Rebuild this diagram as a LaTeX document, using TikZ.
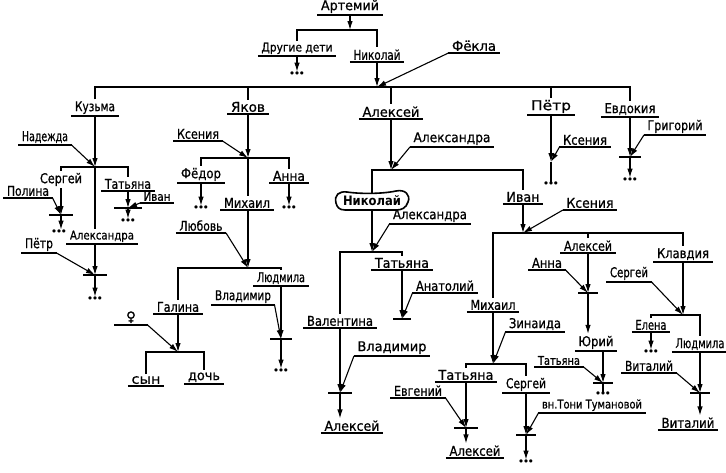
\documentclass[tikz,border=0pt]{standalone}
\usepackage{fontspec}
\usepackage{graphicx}
\usetikzlibrary{arrows.meta,calc}
\newfontfamily\hand[FakeBold=0.8]{DejaVu Sans}
\newfontfamily\handplain{DejaVu Sans}
\newcommand\hw[2]{\resizebox{#1pt}{\height}{#2}}
\newcommand\mydots{•\kern-1.6pt•\kern-1.6pt•}
\begin{document}
\begin{tikzpicture}[x=1pt,y=-1pt, line width=1.1pt,
 nm/.style={anchor=south, inner xsep=3pt, inner ysep=1.5pt, font=\hand\fontsize{13.5}{14}\selectfont,
   append after command={(\tikzlastnode.south west) edge[draw,-] (\tikzlastnode.south east)}},
 sm/.style={font=\hand\fontsize{12}{13}\selectfont},
 pl/.style={anchor=south, inner xsep=3pt, inner ysep=1.5pt, font=\hand\fontsize{13.5}{14}\selectfont},
 dts/.style={inner sep=0pt, font=\handplain\fontsize{11}{11}\selectfont},
 arr/.style={-{Latex[length=9pt,width=5.5pt]}}
]
\useasboundingbox (0,0) rectangle (726,472);
% ---- top
\node[nm] (art) at (350,15) {\hw{58}{Артемий}};
\coordinate (j0) at (350,30);
\node[nm, sm] (dd) at (297,56) {\hw{71}{Другие дети}};
\node[nm] (nik1) at (377,62) {\hw{47}{Николай}};
\node[nm] (fek) at (474,53) {\hw{44}{Фёкла}};
\coordinate (j1) at (377,87);
\node[dts] (d0) at (297,75) {\mydots};
\draw[arr] (art.south) -- (j0);
\draw (dd.north) |- (j0) -| (nik1.north);
\draw[arr] (dd.south) -- (d0.north);
\draw[arr] (nik1.south) -- (j1);
\draw[arr] (fek.south west) -- (j1);
% ---- generation 1
\node[nm] (kuz) at (95,116) {\hw{40}{Кузьма}};
\node[nm] (yak) at (248,114) {\hw{34}{Яков}};
\node[nm] (alx) at (391,119) {\hw{57}{Алексей}};
\node[nm] (pet) at (551,115) {\hw{40}{Пётр}};
\node[nm] (evd) at (630,117) {\hw{51}{Евдокия}};
\draw (kuz.north) |- (j1) -| (evd.north);
\draw (j1 -| yak.north) -- (yak.north);
\draw (j1 -| alx.north) -- (alx.north);
\draw (j1 -| pet.north) -- (pet.north);
% ---- Kuzma
\coordinate (j2) at (95,167);
\node[nm] (nad) at (45,145) {\hw{46}{Надежда}};
\draw[arr] (kuz.south) -- (j2);
\draw[arr] (nad.south east) -- (j2);
\node[pl] (ser1) at (61,188) {\hw{42}{Сергей}};
\node[nm] (tat1) at (128,191) {\hw{46}{Татьяна}};
\draw (ser1.north) |- (j2) -| (tat1.north);
\coordinate (x1) at (61,215);
\node[nm] (pol) at (28,198) {\hw{42}{Полина}};
\draw[arr] (ser1.south) -- (x1);
\draw[arr] (pol.south east) -- (x1);
\draw ([xshift=-12pt]x1) -- ([xshift=12pt]x1);
\node[dts] (d1) at (59,233) {\mydots};
\draw[arr] (x1) -- (d1.north -| x1);
\coordinate (x2) at (128,208);
\node[nm, sm] (ivn1) at (157,203) {\hw{27}{Иван}};
\draw[arr] (tat1.south) -- (x2);
\draw[arr] (ivn1.south west) -- (x2);
\draw ([xshift=-14pt]x2) -- ([xshift=14pt]x2);
\node[dts] (d2) at (128,222) {\mydots};
\draw[arr] (x2) -- (d2.north);
\node[nm, sm] (ale1) at (102,244) {\hw{64}{Александра}};
\draw (j2) -- (j2 |- ale1.north);
\coordinate (x3) at (95,275);
\draw[arr] (x3 |- ale1.south) -- (x3);
\node[nm] (pet1) at (39,253) {\hw{28}{Пётр}};
\draw[arr] (pet1.south east) -- (x3);
\draw ([xshift=-12pt]x3) -- ([xshift=12pt]x3);
\node[dts] (d3) at (95,300) {\mydots};
\draw[arr] (x3) -- (d3.north);
% ---- Yakov
\coordinate (j3) at (248,158);
\node[nm] (ks1) at (198,141) {\hw{42}{Ксения}};
\draw[arr] (yak.south) -- (j3);
\draw[arr] (ks1.south east) -- (j3);
\node[nm] (fed) at (201,183) {\hw{40}{Фёдор}};
\node[nm] (ann1) at (289,183) {\hw{32}{Анна}};
\draw (fed.north) |- (j3) -| (ann1.north);
\node[dts] (d4) at (201,209) {\mydots};
\node[dts] (d5) at (289,209) {\mydots};
\draw[arr] (fed.south) -- (d4.north);
\draw[arr] (ann1.south) -- (d5.north);
\node[nm] (mih1) at (247,210) {\hw{46}{Михаил}};
\draw (j3) -- (j3 |- mih1.north);
\coordinate (j4) at (248,268);
\draw[arr] (j4 |- mih1.south) -- (j4);
\node[nm] (lub) at (201,233) {\hw{43}{Любовь}};
\draw[arr] (lub.south east) -- (j4);
\node[nm] (gal) at (178,314) {\hw{42}{Галина}};
\node[nm] (lud1) at (281,286) {\hw{48}{Людмила}};
\draw (gal.north) |- (j4) -| (lud1.north);
\coordinate (j5) at (178,352);
\draw[arr] (gal.south) -- (j5);
\node[nm, minimum width=32pt] (fem) at (131,325) {♀};
\draw[arr] (fem.south east) -- (j5);
\node[nm] (syn) at (146,386) {\hw{29}{сын}};
\node[nm] (doc) at (204,384) {\hw{32}{дочь}};
\draw (syn.north) |- (j5) -| (doc.north);
\coordinate (x4) at (281,339);
\draw[arr] (lud1.south) -- (x4);
\node[nm] (vla1) at (243,305) {\hw{56}{Владимир}};
\draw[arr] (vla1.south east) -- (x4);
\draw ([xshift=-11pt]x4) -- ([xshift=11pt]x4);
\node[dts] (d6) at (281,372) {\mydots};
\draw[arr] (x4) -- (d6.north);
% ---- Alexei
\coordinate (j6) at (391,170);
\draw[arr] (alx.south) -- (j6);
\node[nm] (ale2) at (452,147) {\hw{77}{Александра}};
\draw[arr] (ale2.south west) -- (j6);
\node[inner sep=1pt, font=\handplain\bfseries\fontsize{13}{14}\selectfont] (nik2) at (372,201) {\hw{58}{Николай}};
\begin{scope}[shift={(nik2.center)}]
\draw[line width=1.6pt] (-36,2) .. controls (-38,-6) and (-33,-10) .. (-25,-9)
  .. controls (-12,-7) and (10,-7) .. (24,-10)
  .. controls (33,-12) and (39,-6) .. (36,1)
  .. controls (34,7) and (30,9) .. (24,9)
  -- (-27,9) .. controls (-33,9) and (-35,6) .. cycle;
\end{scope}
\node[nm] (ivn2) at (523,204) {\hw{33}{Иван}};
\draw ([yshift=7pt]nik2.center) |- (j6) -| (ivn2.north);
\coordinate (j7) at (372,252);
\draw[arr] ([yshift=-9pt]nik2.center) -- (j7);
\node[nm] (ale3) at (430,224) {\hw{74}{Александра}};
\draw[arr] (ale3.south west) -- (j7);
\node[nm] (val) at (340,328) {\hw{66}{Валентина}};
\node[nm] (tat2) at (402,270) {\hw{54}{Татьяна}};
\draw (val.north) |- (j7) -| (tat2.north);
\coordinate (x5) at (402,319);
\draw[arr] (tat2.south) -- (x5);
\node[nm] (ana) at (445,293) {\hw{58}{Анатолий}};
\draw[arr] (ana.south west) -- (x5);
\draw ([xshift=-9pt]x5) -- ([xshift=9pt]x5);
\coordinate (x6) at (340,393);
\draw[arr] (val.south) -- (x6);
\node[nm] (vla2) at (392,356) {\hw{69}{Владимир}};
\draw[arr] (vla2.south west) -- (x6);
\draw ([xshift=-12pt]x6) -- ([xshift=12pt]x6);
\node[nm] (alx3) at (352,433) {\hw{55}{Алексей}};
\draw[arr] (x6) -- (x6 |- alx3.north);
% ---- Ivan
\coordinate (j8) at (523,233);
\draw[arr] (ivn2.south) -- (j8);
\node[nm] (ks3) at (590,210) {\hw{47}{Ксения}};
\draw[arr] (ks3.south west) -- (j8);
\node[nm] (mih2) at (493,312) {\hw{45}{Михаил}};
\node[nm] (kla) at (683,262) {\hw{52}{Клавдия}};
\draw (mih2.north) |- (j8) -| (kla.north);
\node[nm] (alx5) at (588,253) {\hw{48}{Алексей}};
\draw (j8 -| alx5.north) -- (alx5.north);
% Mikhail
\coordinate (j9) at (493,364);
\draw[arr] (mih2.south) -- (j9);
\node[nm] (zin) at (535,332) {\hw{52}{Зинаида}};
\draw[arr] (zin.south west) -- (j9);
\node[nm] (tat3) at (466,382) {\hw{55}{Татьяна}};
\node[nm] (ser2) at (526,393) {\hw{40}{Сергей}};
\draw (tat3.north) |- (j9) -| (ser2.north);
\coordinate (x7) at (466,428);
\draw[arr] (tat3.south) -- (x7);
\node[nm] (evg) at (418,398) {\hw{48}{Евгений}};
\draw[arr] (evg.south east) -- (x7);
\draw ([xshift=-12pt]x7) -- ([xshift=12pt]x7);
\node[nm] (alx4) at (475,458) {\hw{51}{Алексей}};
\draw[arr] (x7) -- (x7 |- alx4.north);
\coordinate (x8) at (526,435);
\draw[arr] (ser2.south) -- (x8);
\node[nm, sm] (ton) at (592,413) {\hw{100}{вн.Тони Тумановой}};
\draw[arr] (ton.south west) -- (x8);
\draw ([xshift=-10pt]x8) -- ([xshift=10pt]x8);
\node[dts] (d7) at (526,463) {\mydots};
\draw[arr] (x8) -- (d7.north);
% Alexei (Ivan's son)
\coordinate (x9) at (588,293);
\draw[arr] (alx5.south) -- (x9);
\node[nm] (ann2) at (547,270) {\hw{30}{Анна}};
\draw[arr] (ann2.south east) -- (x9);
\draw ([xshift=-10pt]x9) -- ([xshift=10pt]x9);
\node[nm] (yur) at (596,351) {\hw{35}{Юрий}};
\draw[arr] (x9) -- (x9 |- yur.north);
\coordinate (x10) at (603,383);
\draw[arr] (x10 |- yur.south) -- (x10);
\node[nm, sm] (tat4) at (559,367) {\hw{42}{Татьяна}};
\draw[arr] (tat4.south east) -- (x10);
\draw ([xshift=-10pt]x10) -- ([xshift=10pt]x10);
\node[dts] (d8) at (603,395) {\mydots};
\draw (x10) -- (d8.north);
% Klavdia
\coordinate (j10) at (683,315);
\draw[arr] (kla.south) -- (j10);
\node[nm] (ser3) at (629,282) {\hw{38}{Сергей}};
\draw[arr] (ser3.south east) -- (j10);
\node[nm] (ele) at (651,332) {\hw{31}{Елена}};
\node[nm] (lud2) at (700,352) {\hw{49}{Людмила}};
\draw (ele.north) |- (j10) -| (lud2.north);
\node[dts] (d9) at (651,353) {\mydots};
\draw[arr] (ele.south) -- (d9.north);
\coordinate (x11) at (700,393);
\draw[arr] (lud2.south) -- (x11);
\node[nm] (vit1) at (649,373) {\hw{48}{Виталий}};
\draw[arr] (vit1.south east) -- (x11);
\draw ([xshift=-10pt]x11) -- ([xshift=10pt]x11);
\node[nm] (vit2) at (688,430) {\hw{53}{Виталий}};
\draw[arr] (x11) -- (x11 |- vit2.north);
% ---- Pyotr
\coordinate (j11) at (551,162);
\draw[arr] (pet.south) -- (j11);
\node[nm] (ks2) at (585,147) {\hw{44}{Ксения}};
\draw[arr] (ks2.south west) -- (j11);
\node[dts] (d10) at (551,185) {\mydots};
\draw (j11) -- (d10.north);
% ---- Evdokia
\coordinate (x12) at (630,157);
\draw[arr] (evd.south) -- (x12);
\node[nm] (gri) at (675,135) {\hw{55}{Григорий}};
\draw[arr] (gri.south west) -- (x12);
\draw ([xshift=-11pt]x12) -- ([xshift=11pt]x12);
\node[dts] (d11) at (630,181) {\mydots};
\draw[arr] (x12) -- (d11.north);
\end{tikzpicture}
\end{document}
